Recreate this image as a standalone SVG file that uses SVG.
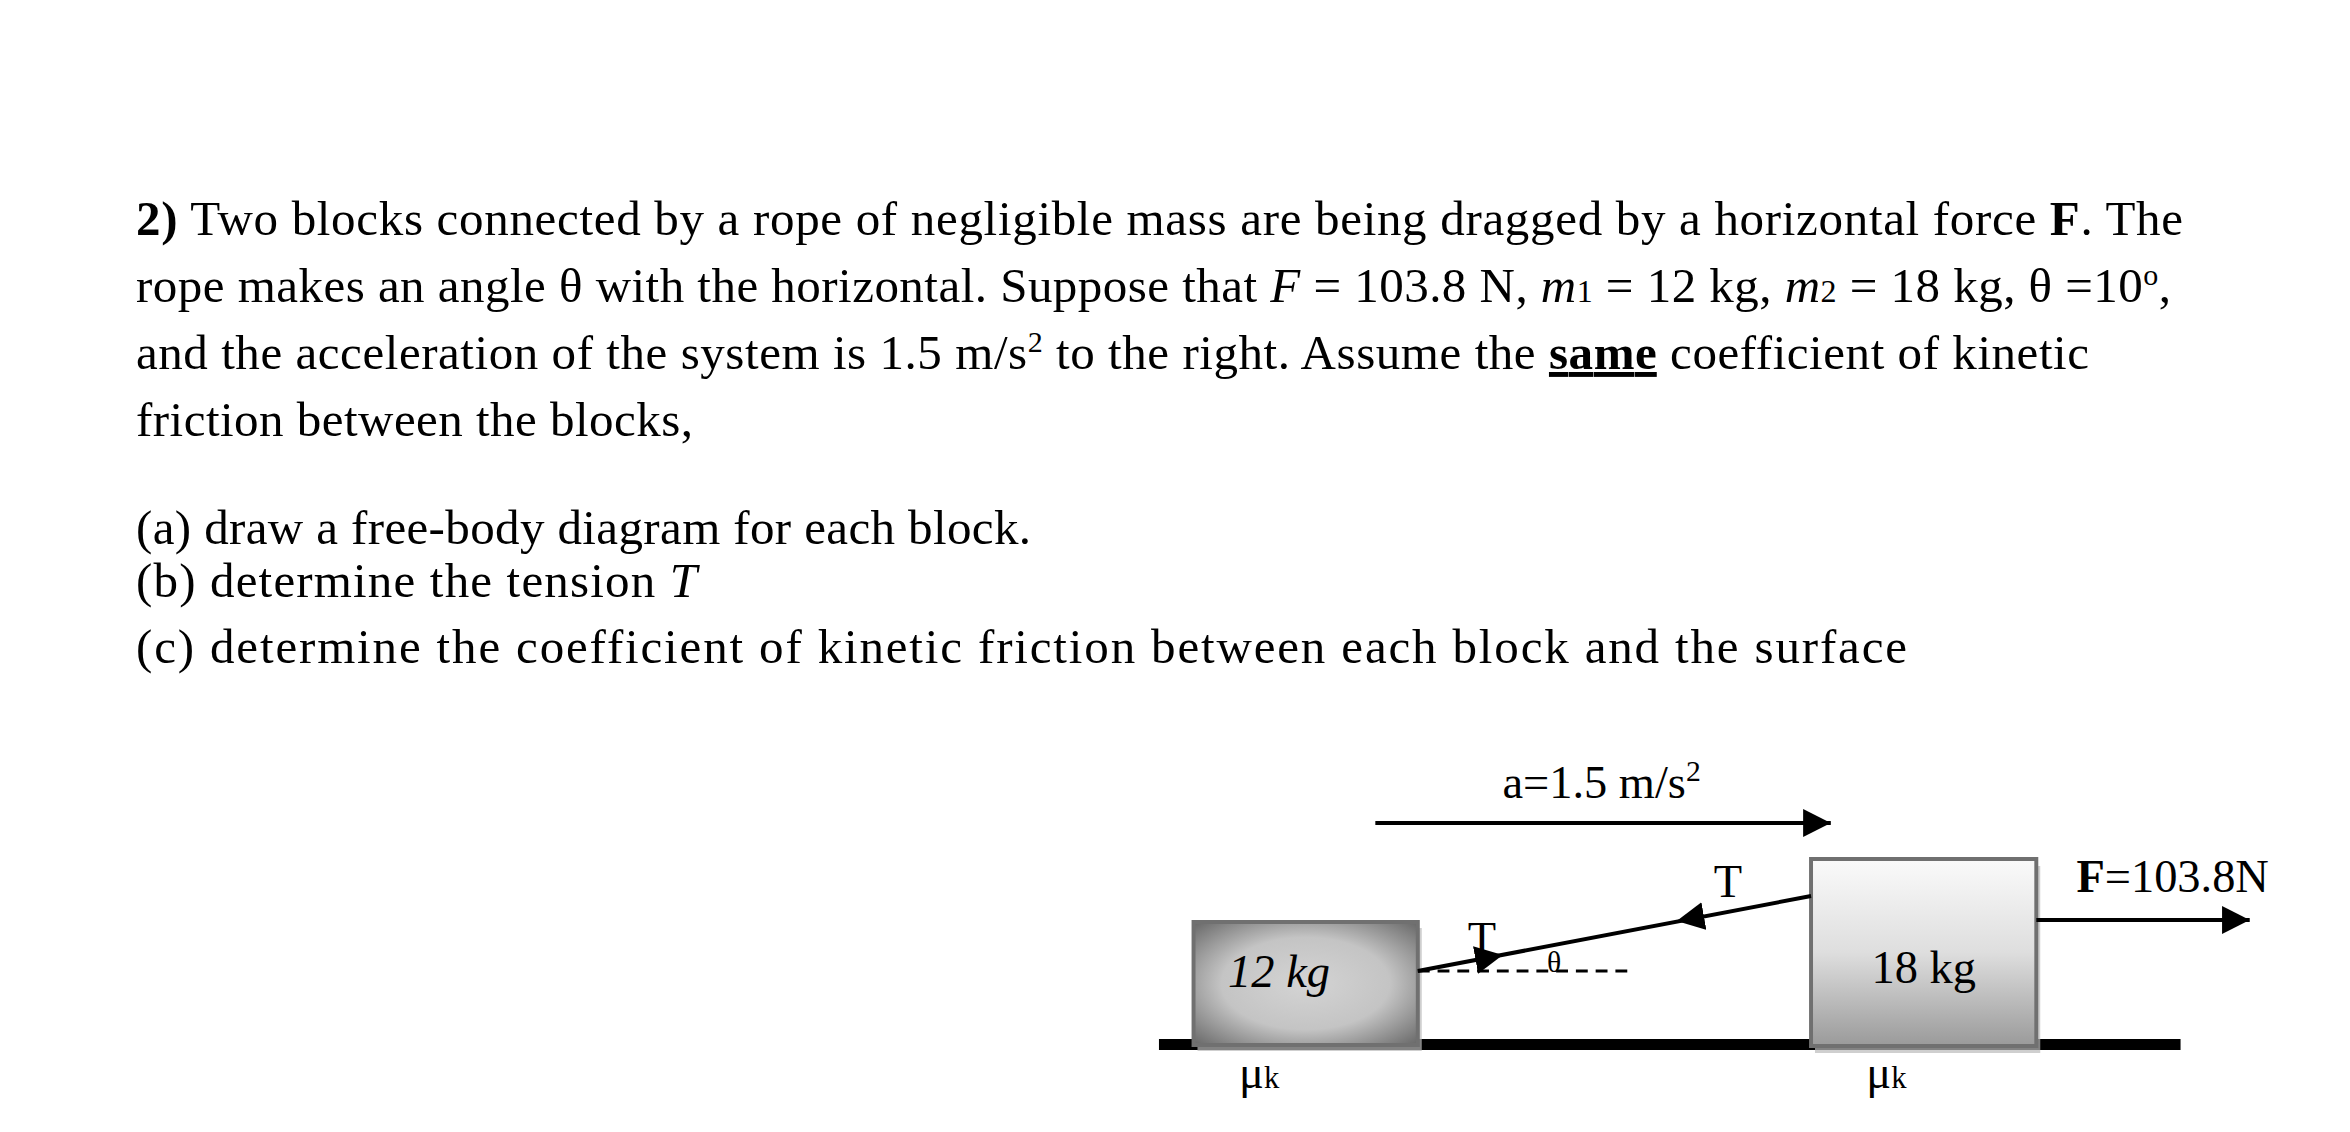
<svg xmlns="http://www.w3.org/2000/svg" width="2350" height="1132" viewBox="0 0 2350 1132">
<style>
.t{font-family:"Liberation Serif","Times New Roman",serif;font-size:49px;fill:#000}
.d{font-family:"Liberation Serif","Times New Roman",serif;font-size:47px;fill:#000}
.ln{stroke:#000;stroke-width:4;fill:none}
</style>
<defs>
<radialGradient id="g1" cx="0.5" cy="0.5" r="0.75">
<stop offset="0" stop-color="#d4d4d4"/><stop offset="0.5" stop-color="#c4c4c4"/><stop offset="1" stop-color="#5a5a5a"/>
</radialGradient>
<linearGradient id="g2" x1="0" y1="0" x2="0" y2="1">
<stop offset="0" stop-color="#fafafa"/><stop offset="0.5" stop-color="#dedede"/><stop offset="1" stop-color="#9a9a9a"/>
</linearGradient>
<marker id="ahb" viewBox="0 0 10 10" refX="10" refY="5" markerWidth="28" markerHeight="28" orient="auto" markerUnits="userSpaceOnUse"><path d="M0,0 L10,5 L0,10 z" fill="#000"/></marker>
</defs>
<g id="text">
<text class="t" x="136" y="235" textLength="2047" lengthAdjust="spacing"><tspan font-weight="bold">2)</tspan> Two blocks connected by a rope of negligible mass are being dragged by a horizontal force <tspan font-weight="bold">F</tspan>.  The</text>
<text class="t" x="136" y="302" textLength="2035" lengthAdjust="spacing">rope makes an angle θ with the horizontal. Suppose that <tspan font-style="italic">F</tspan> = 103.8 N, <tspan font-style="italic">m</tspan><tspan font-size="32">1</tspan> = 12 kg, <tspan font-style="italic">m</tspan><tspan font-size="32">2</tspan> = 18 kg, θ =10<tspan font-size="30" dy="-17">o</tspan><tspan dy="17">,</tspan></text>
<text class="t" x="136" y="369" textLength="1953" lengthAdjust="spacing">and the acceleration of the system is 1.5 m/s<tspan font-size="30" dy="-17">2</tspan><tspan dy="17"> to the right.  Assume the </tspan><tspan font-weight="bold" text-decoration="underline">same</tspan> coefficient of kinetic</text>
<text class="t" x="136" y="436" textLength="557" lengthAdjust="spacing">friction between the blocks,</text>
<text class="t" x="136" y="544" textLength="895" lengthAdjust="spacing">(a) draw a free-body diagram for each block.</text>
<text class="t" x="136" y="597" textLength="561" lengthAdjust="spacing">(b) determine the tension <tspan font-style="italic">T</tspan></text>
<text class="t" x="136" y="663" textLength="1771" lengthAdjust="spacing">(c) determine the coefficient of kinetic friction between each block and the surface</text>
</g>
<g transform="translate(3,-8) scale(0.988,1)">
<g id="ground"><rect x="1170" y="1047" width="1034" height="11" fill="#000"/></g>
<g id="block1">
<rect x="1209" y="936" width="227" height="123" fill="#bbb" opacity="0.7"/>
<rect x="1205" y="930" width="227" height="123" fill="url(#g1)" stroke="#707070" stroke-width="4"/>
<text class="d" x="1240" y="995" font-style="italic">12 kg</text>
<text class="d" x="1251" y="1096">μ<tspan font-size="31">k</tspan></text>
</g>
<g id="block2">
<rect x="1834" y="874" width="228" height="187" fill="#bbb" opacity="0.7"/>
<rect x="1830" y="867" width="228" height="187" fill="url(#g2)" stroke="#707070" stroke-width="4"/>
<text class="d" x="1944" y="991" text-anchor="middle">18 kg</text>
<text class="d" x="1886" y="1096">μ<tspan font-size="31">k</tspan></text>
</g>
<g id="connectors">
<line class="ln" x1="1389" y1="831" x2="1850" y2="831" marker-end="url(#ahb)"/>
<line x1="1432" y1="979" x2="1648" y2="979" stroke="#000" stroke-width="3" stroke-dasharray="12,8"/>
<line class="ln" x1="1432" y1="979" x2="1830" y2="904"/>
<line x1="1480" y1="970" x2="1518" y2="963" stroke="none" marker-end="url(#ahb)"/>
<line x1="1760" y1="917" x2="1694" y2="929" stroke="none" marker-end="url(#ahb)"/>
<line class="ln" x1="2058" y1="928" x2="2274" y2="928" marker-end="url(#ahb)"/>
<text class="d" x="1618" y="806" text-anchor="middle">a=1.5 m/s<tspan font-size="30" dy="-17">2</tspan></text>
<text class="d" x="1746" y="905" text-anchor="middle">T</text>
<text class="d" x="1497" y="962" text-anchor="middle">T</text>
<text x="1570" y="980" font-family="Liberation Serif,serif" font-size="30" text-anchor="middle">θ</text>
<text class="d" x="2196" y="900" text-anchor="middle"><tspan font-weight="bold">F</tspan>=103.8N</text>
</g>
</g>
</svg>
